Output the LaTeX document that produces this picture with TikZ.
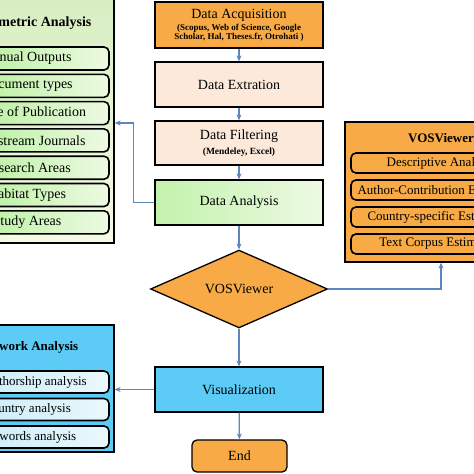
\documentclass[tikz,border=0pt]{standalone}
\usepackage{fontspec}
\setmainfont{Liberation Serif}
\usetikzlibrary{shapes.geometric,arrows.meta}
\definecolor{boxorange}{HTML}{F7AA45}
\definecolor{boxpeach}{HTML}{FCE9DA}
\definecolor{boxblue}{HTML}{5CCBF5}
\definecolor{flowblue}{HTML}{5B86C0}
\definecolor{greendeep}{HTML}{AEEE90}
\definecolor{greenpale}{HTML}{EDFAE3}
\definecolor{panelgreen}{HTML}{D6EEC2}
\definecolor{panelcream}{HTML}{F5FAE6}
\definecolor{bluepale}{HTML}{C4EAF8}
\definecolor{bluewhite}{HTML}{EAF8FD}
\tikzset{
    main-box/.style = {draw=black, line width=1.3pt, rectangle, minimum width=168pt, minimum height=45pt, inner sep=0pt, align=center, font=\fontsize{14}{16}\selectfont},
    panel/.style = {draw=black, line width=1.3pt, rectangle, inner sep=0pt},
    panel-title/.style = {font=\bfseries\fontsize{14}{16}\selectfont},
    item/.style = {draw=black, line width=1.6pt, rectangle, rounded corners=5pt, inner sep=0pt, font=\fontsize{14}{16}\selectfont},
    green-item/.style = {item, left color=greendeep, right color=greenpale, minimum width=164pt, minimum height=23pt},
    orange-item/.style = {item, fill=boxorange, minimum width=180pt, minimum height=20pt, font=\fontsize{13}{15}\selectfont},
    blue-item/.style = {item, left color=bluepale, right color=bluewhite, minimum width=164pt, minimum height=22pt, font=\fontsize{13}{15}\selectfont},
    flow/.style = {draw=flowblue, line width=1.3pt, -{Stealth[length=6pt,width=5pt]}},
}
\begin{document}
\begin{tikzpicture}[x=1pt, y=-1pt]
\useasboundingbox (0,0) rectangle (474,474);
\clip (0,0) rectangle (474,474);

% main column
\node[main-box, fill=boxorange, minimum height=46pt, font=\fontsize{14}{12}\selectfont] (acq) at (239,25) {Data Acquisition\\
    {\bfseries\fontsize{9}{10}\selectfont (Scopus, Web of Science, Google}\\[-3pt]
    {\bfseries\fontsize{9}{10}\selectfont Scholar, Hal, Theses.fr, Otrohati )}};
\node[main-box, fill=boxpeach] (ext) at (239,84.5) {Data Extration};
\node[main-box, fill=boxpeach, minimum height=44pt, font=\fontsize{14}{16}\selectfont] (filt) at (239,143) {Data Filtering\\[-1pt]
    {\bfseries\fontsize{9.5}{11}\selectfont (Mendeley, Excel)}};
\node[main-box, left color=greendeep!75!white, right color=greenpale] (ana) at (239,202.5) {Data Analysis};
\node[draw=black, line width=1.3pt, diamond, fill=boxorange, minimum width=177pt, minimum height=56pt, inner sep=0pt, font=\fontsize{14}{16}\selectfont] (vos) at (239,289) {VOSViewer};
\node[main-box, fill=boxblue] (vis) at (239,389.5) {Visualization};
\node[main-box, fill=boxorange, rounded corners=5pt, minimum width=95pt, minimum height=32pt] (end) at (239.5,456) {End};

% bibliometric panel
\node[panel, top color=panelgreen, bottom color=panelcream, minimum width=173.5pt, minimum height=246pt] (bib) at (27.25,120) {};
\node[panel-title] (bib-title) at (27,23) {Bibliometric Analysis};
\foreach \name/\txt [count=\i from 0] in {annual/Annual Outputs, doctype/Document types, range/Range of Publication, journal/Mainstream Journals, research/Research Areas, habitat/Habitat Types, study/Study Areas}
    \node[green-item] (\name) at (27, 58.5+27.3*\i) {\txt};

% vosviewer panel
\node[panel, fill=boxorange, minimum width=192pt, minimum height=140pt] (vosv) at (441,192) {};
\node[panel-title, font=\bfseries\fontsize{13}{15}\selectfont] (vosv-title) at (441,138) {VOSViewer};
\foreach \name/\txt [count=\i from 0] in {descr/Descriptive Analysis, author/Author-Contribution Estimation, country/Country-specific Estimation, corpus/Text Corpus Estimation}
    \node[orange-item] (\name) at (441, 163+27*\i) {\txt};

% network panel
\node[panel, fill=boxblue, minimum width=173.5pt, minimum height=127pt] (net) at (27.25,388.5) {};
\node[panel-title, font=\bfseries\fontsize{13}{15}\selectfont] (net-title) at (29,347) {Network Analysis};
\foreach \name/\txt [count=\i from 0] in {coauth/Co-authorship analysis, countryan/Country analysis, keyw/Keywords analysis}
    \node[blue-item] (\name) at (27, 382+27.5*\i) {\txt};

% connectors
\draw[flow] (acq) -- (ext);
\draw[flow] (ext) -- (filt);
\draw[flow] (filt) -- (ana);
\draw[flow] (ana) -- (vos);
\draw[flow] (vos) -- (vis);
\draw[flow] (vis) -- (end);
\draw[flow] (ana.west) -- ++(-21,0) |- ([yshift=-3pt]bib.east);
\draw[flow] (vos.east) -| (vosv.south);
\draw[flow] (vis.west) -- (vis.west -| net.east);
\end{tikzpicture}
\end{document}
